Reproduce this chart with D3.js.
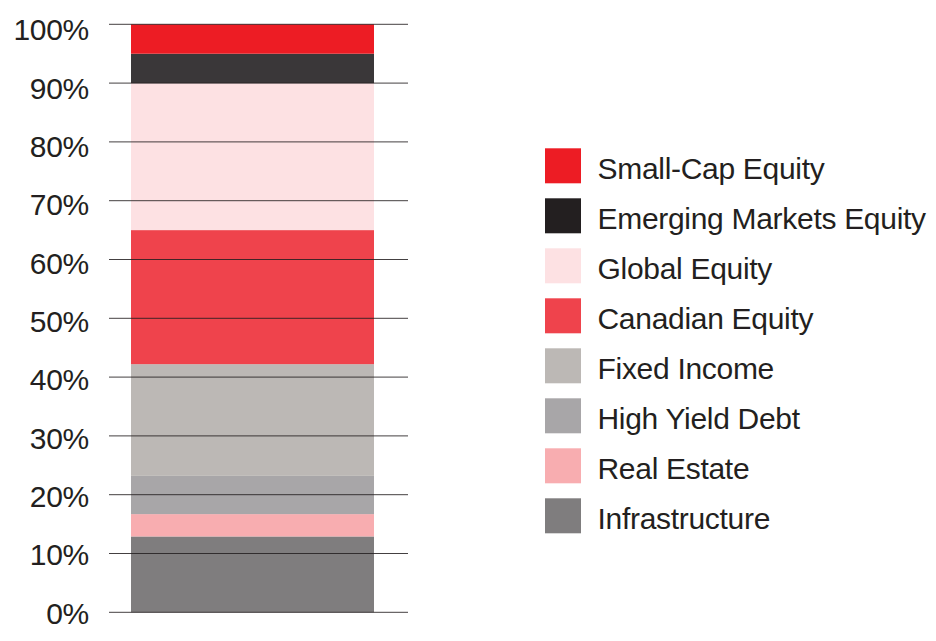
<!DOCTYPE html>
<html>
<head>
<meta charset="utf-8">
<script src="https://cdn.jsdelivr.net/npm/d3@7"></script>
<style>
  body { margin: 0; background: #fff; }
  text { font-family: "Liberation Sans", Arial, sans-serif; fill: #231f20; }
</style>
</head>
<body>
<svg id="chart" width="936" height="641"></svg>
<script>
// asset mix, bottom to top, in percent
const categories = ["Infrastructure", "Real Estate", "High Yield Debt", "Fixed Income",
  "Canadian Equity", "Global Equity", "Emerging Markets Equity", "Small-Cap Equity"];
const weights = [12.9, 3.8, 6.5, 19.0, 22.8, 25.0, 5.0, 5.0];
const colors = ["#7f7d7e", "#f8adb0", "#a8a6a8", "#bcb8b5",
  "#ef434c", "#fde1e3", "#3a3739", "#ed1c24"];
const tickValues = [0, 10, 20, 30, 40, 50, 60, 70, 80, 90, 100];

const svg = d3.select("#chart");

const y = d3.scaleLinear().domain([0, 100]).range([612.3, 24.3]);
const labelY = d3.scaleLinear().domain([0, 100]).range([613, 29.5]);
const x = d3.scaleBand().domain(["mix"]).range([131, 374]).padding(0);

// stack the segments
let acc = 0;
const segments = categories.map(function (c, i) {
  const seg = { name: c, y0: acc, y1: acc + weights[i], color: colors[i] };
  acc += weights[i];
  return seg;
});

svg.append("g")
  .selectAll("rect")
  .data(segments)
  .enter()
  .append("rect")
  .attr("x", x("mix"))
  .attr("width", x.bandwidth())
  .attr("y", function (d) { return y(d.y1); })
  .attr("height", function (d) { return y(d.y0) - y(d.y1); })
  .attr("fill", function (d) { return d.color; });

// grid lines over the bar
svg.append("g")
  .selectAll("line")
  .data(tickValues)
  .enter()
  .append("line")
  .attr("x1", 109)
  .attr("x2", 408)
  .attr("y1", function (d) { return y(d); })
  .attr("y2", function (d) { return y(d); })
  .attr("stroke", "#231f20")
  .attr("stroke-opacity", 0.85)
  .attr("stroke-width", 1);

svg.append("g")
  .selectAll("text")
  .data(tickValues)
  .enter()
  .append("text")
  .attr("x", 89)
  .attr("y", function (d) { return labelY(d); })
  .attr("dy", "0.36em")
  .attr("text-anchor", "end")
  .style("font-size", "30px")
  .style("letter-spacing", "-0.3px")
  .text(function (d) { return d + "%"; });

// legend, top to bottom
const legendItems = segments.slice().reverse();
const legend = svg.append("g")
  .selectAll("g")
  .data(legendItems)
  .enter()
  .append("g")
  .attr("transform", function (d, i) { return "translate(545," + (148.3 + i * 50) + ")"; });

legend.append("rect")
  .attr("width", 36)
  .attr("height", 35)
  .attr("fill", function (d) { return d.name === "Emerging Markets Equity" ? "#231f20" : d.color; });

legend.append("text")
  .attr("x", 52.5)
  .attr("y", 31)
  .style("font-size", "30px")
  .style("letter-spacing", "-0.3px")
  .text(function (d) { return d.name; });
</script>
</body>
</html>
